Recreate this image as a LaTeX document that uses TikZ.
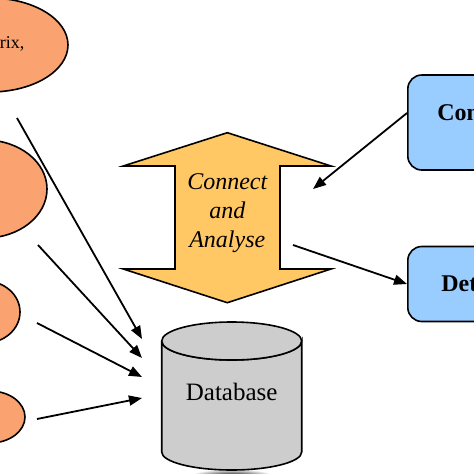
\documentclass[tikz,border=0pt]{standalone}
\usepackage{fontspec}
\setmainfont{Liberation Serif}
\usetikzlibrary{arrows.meta}

\definecolor{blobfill}{RGB}{250,162,112}
\definecolor{arrowfill}{RGB}{255,200,100}
\definecolor{boxfill}{RGB}{153,204,255}
\definecolor{dbfill}{RGB}{205,205,205}

\begin{document}
\begin{tikzpicture}[%
    x=1pt, y=-1pt,
    line width=1.6pt,
    blobshade/.style={
        fill=blobfill,
        draw=black
    },
    infobox/.style={
        draw=black,
        fill=boxfill,
        rounded corners=14pt,
        minimum width=120pt,
        anchor=west
    },
    link/.style={
        -{Triangle[length=13pt,width=10pt]},
        line width=1.8pt
    }
]
    % Fix the page to the size of the image.
    \useasboundingbox (0,0) rectangle (474,474);
    \clip (0,0) rectangle (474,474);

    % Points where the arrows start and end.
    \coordinate (srcA) at ( 17,118);
    \coordinate (srcB) at ( 38,245);
    \coordinate (srcC) at ( 37,323);
    \coordinate (srcD) at ( 37,419);
    \coordinate (dbA)  at (142,339);
    \coordinate (dbB)  at (142,358);
    \coordinate (dbC)  at (142,377);
    \coordinate (dbD)  at (142,398);
    \coordinate (conport) at (407,113);
    \coordinate (anain)   at (313,189);
    \coordinate (anaout)  at (293,245);

    % Blobs on the left, cut by the edge of the page.
    \filldraw[blobshade] (-10, 45) ellipse [x radius=78, y radius=47];
    \filldraw[blobshade] (-15,189) ellipse [x radius=62, y radius=49];
    \filldraw[blobshade] (-15,312) ellipse [x radius=35, y radius=31];
    \filldraw[blobshade] (-10,417) ellipse [x radius=35, y radius=26];
    \node[anchor=base west, inner sep=0pt, font=\fontsize{18}{20}\selectfont]
        (matrix) at (-1,48) {rix,};

    % The double arrow in the middle.
    \filldraw[fill=arrowfill, draw=black]
        (227.3,132.7) -- (331,166) -- (280,166) -- (280,269)
                      -- (331,269) -- (227.3,302.7) -- (123.3,269)
                      -- (175,269) -- (175,166) -- (123.3,166) -- cycle;
    \node[align=center, font=\itshape\fontsize{24}{29}\selectfont]
        (analyse) at (227.3,213) {Connect\\and\\Analyse};

    % Shadow under the database.
    \shade[inner color=black, outer color=white] (232,476) ellipse [x radius=42, y radius=7];

    % Database (Cylinder).
    \filldraw[fill=dbfill, draw=black]
        (161.7,341) -- (161.7,452)
            arc [start angle=180, end angle=0, x radius=70, y radius=18]
            -- (301.7,341)
            arc [start angle=0, end angle=180, x radius=70, y radius=19];
    \filldraw[fill=dbfill, draw=black] (231.7,341) ellipse [x radius=70, y radius=19];
    \node[font=\fontsize{25}{28}\selectfont] (database) at (231.7,392) {Database};

    % Boxes on the right, cut by the edge of the page.
    \node[infobox, minimum height=95pt] (con) at (407,122.5) {};
    \node[infobox, minimum height=75pt] (det) at (407,284) {};
    \node[anchor=base west, inner sep=0pt, font=\bfseries\fontsize{24}{27}\selectfont]
        (contxt) at (436.5,120) {Con};
    \node[anchor=base west, inner sep=0pt, font=\bfseries\fontsize{24}{27}\selectfont]
        (dettxt) at (440.5,291) {Det};

    % Arrows.
    \draw[link] (srcA) -- (dbA);
    \draw[link] (srcB) -- (dbB);
    \draw[link] (srcC) -- (dbC);
    \draw[link] (srcD) -- (dbD);
    \draw[link] (conport) -- (anain);
    \draw[link] (anaout) -- (det.west);
\end{tikzpicture}
\end{document}
